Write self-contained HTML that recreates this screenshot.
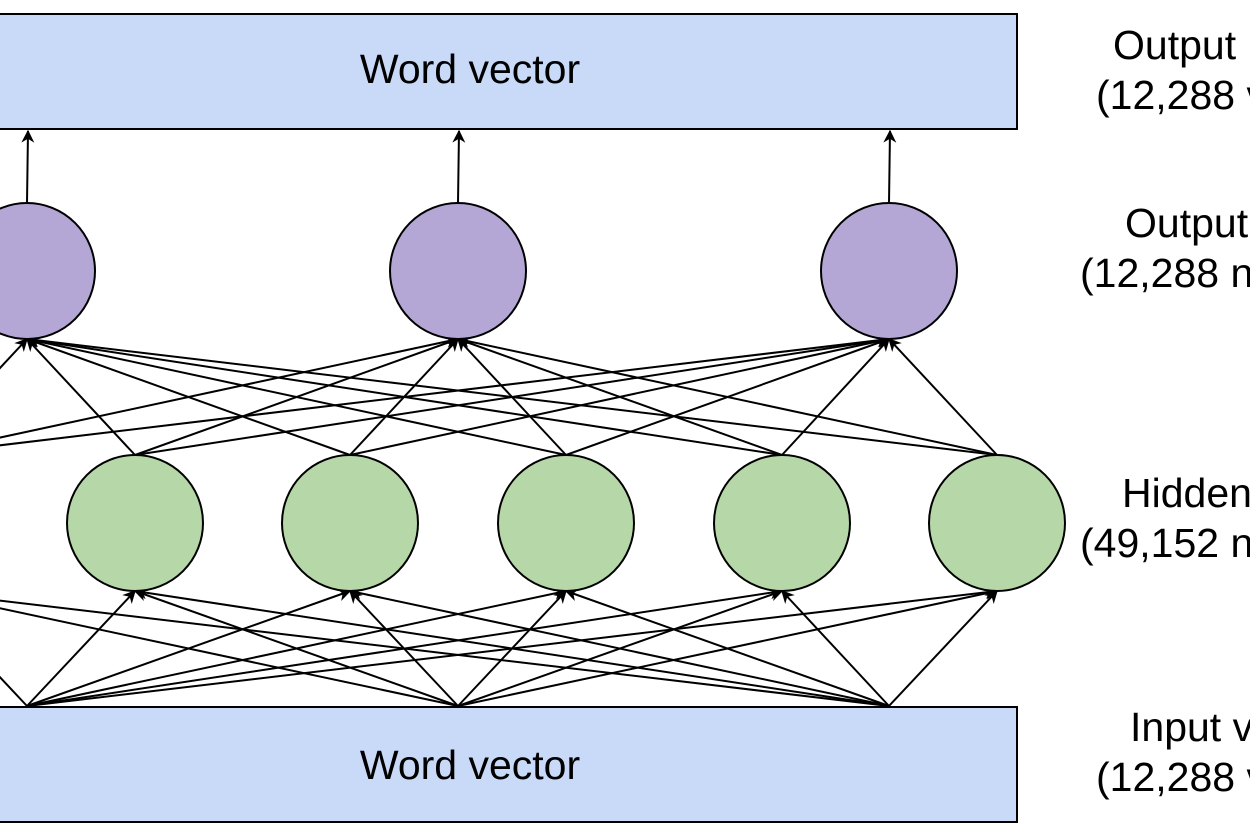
<!DOCTYPE html>
<html><head><meta charset="utf-8"><style>html,body{margin:0;padding:0;background:#fff}svg{display:block}</style></head>
<body>
<svg width="1250" height="833" viewBox="0 0 1250 833" xmlns="http://www.w3.org/2000/svg" font-family="Liberation Sans, Arial, sans-serif">
<defs>
<marker id="a" viewBox="0 0 10 10" refX="9" refY="5" markerWidth="15" markerHeight="13" orient="auto" markerUnits="userSpaceOnUse">
<path d="M0,0 L10,5 L0,10 L3,5 z" fill="#000"/>
</marker>
</defs>
<rect x="-10" y="14" width="1027" height="115" fill="#c9daf8" stroke="#000" stroke-width="2"/>
<rect x="-10" y="707" width="1027" height="115" fill="#c9daf8" stroke="#000" stroke-width="2"/>
<text x="470" y="83" font-size="41" text-anchor="middle">Word vector</text>
<text x="470" y="779" font-size="41" text-anchor="middle">Word vector</text>
<g stroke="#000" stroke-width="2" marker-end="url(#a)">
<line x1="27" y1="203" x2="28" y2="131"/>
<line x1="458" y1="203" x2="459" y2="131"/>
<line x1="889" y1="203" x2="890" y2="131"/>
</g>
<g stroke="#000" stroke-width="2" marker-end="url(#a)">
<line x1="-81" y1="455" x2="27" y2="339"/><line x1="-81" y1="455" x2="458" y2="339"/><line x1="-81" y1="455" x2="889" y2="339"/>
<line x1="135" y1="455" x2="27" y2="339"/><line x1="135" y1="455" x2="458" y2="339"/><line x1="135" y1="455" x2="889" y2="339"/>
<line x1="350" y1="455" x2="27" y2="339"/><line x1="350" y1="455" x2="458" y2="339"/><line x1="350" y1="455" x2="889" y2="339"/>
<line x1="566" y1="455" x2="27" y2="339"/><line x1="566" y1="455" x2="458" y2="339"/><line x1="566" y1="455" x2="889" y2="339"/>
<line x1="782" y1="455" x2="27" y2="339"/><line x1="782" y1="455" x2="458" y2="339"/><line x1="782" y1="455" x2="889" y2="339"/>
<line x1="997" y1="455" x2="27" y2="339"/><line x1="997" y1="455" x2="458" y2="339"/><line x1="997" y1="455" x2="889" y2="339"/>
<line x1="27" y1="706" x2="-81" y2="591"/><line x1="458" y1="706" x2="-81" y2="591"/><line x1="889" y1="706" x2="-81" y2="591"/>
<line x1="27" y1="706" x2="135" y2="591"/><line x1="458" y1="706" x2="135" y2="591"/><line x1="889" y1="706" x2="135" y2="591"/>
<line x1="27" y1="706" x2="350" y2="591"/><line x1="458" y1="706" x2="350" y2="591"/><line x1="889" y1="706" x2="350" y2="591"/>
<line x1="27" y1="706" x2="566" y2="591"/><line x1="458" y1="706" x2="566" y2="591"/><line x1="889" y1="706" x2="566" y2="591"/>
<line x1="27" y1="706" x2="782" y2="591"/><line x1="458" y1="706" x2="782" y2="591"/><line x1="889" y1="706" x2="782" y2="591"/>
<line x1="27" y1="706" x2="997" y2="591"/><line x1="458" y1="706" x2="997" y2="591"/><line x1="889" y1="706" x2="997" y2="591"/>
</g>
<g fill="#b4a7d6" stroke="#000" stroke-width="2">
<circle cx="27" cy="271" r="68"/><circle cx="458" cy="271" r="68"/><circle cx="889" cy="271" r="68"/>
</g>
<g fill="#b6d7a8" stroke="#000" stroke-width="2">
<circle cx="-81" cy="523" r="68"/><circle cx="135" cy="523" r="68"/><circle cx="350" cy="523" r="68"/><circle cx="566" cy="523" r="68"/><circle cx="782" cy="523" r="68"/><circle cx="997" cy="523" r="68"/>
</g>
<g font-size="41" fill="#000">
<text x="1113" y="59">Output layer</text>
<text x="1096" y="109">(12,288 values)</text>
<text x="1125" y="237">Output</text>
<text x="1080" y="287">(12,288 neurons)</text>
<text x="1122" y="507">Hidden</text>
<text x="1080" y="557">(49,152 neurons)</text>
<text x="1130" y="741">Input vector</text>
<text x="1096" y="791">(12,288 values)</text>
</g>
</svg>
</body></html>
